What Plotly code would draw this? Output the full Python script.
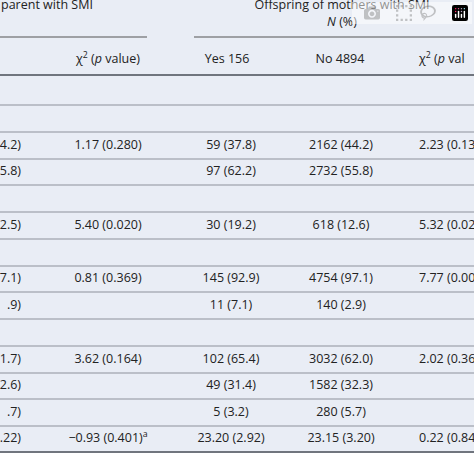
import plotly.graph_objects as go

# Table content (visible portion of the cropped reference)
row_y = [145.5, 172, 225.5, 279, 305.5, 359.5, 386, 412.5, 439]
col1 = ["4.2)", "5.8)", "2.5)", "7.1)", ".9)", "1.7)", "2.6)", ".7)", ".22)"]
col2 = ["1.17 (0.280)", "", "5.40 (0.020)", "0.81 (0.369)", "", "3.62 (0.164)", "", "", "\u22120.93 (0.401)<sup>a</sup>"]
col3 = ["59 (37.8)", "97 (62.2)", "30 (19.2)", "145 (92.9)", "11 (7.1)", "102 (65.4)", "49 (31.4)", "5 (3.2)", "23.20 (2.92)"]
col4 = ["2162 (44.2)", "2732 (55.8)", "618 (12.6)", "4754 (97.1)", "140 (2.9)", "3032 (62.0)", "1582 (32.3)", "280 (5.7)", "23.15 (3.20)"]
col5 = ["2.23 (0.13", "", "5.32 (0.02", "7.77 (0.00", "", "2.02 (0.36", "", "", "0.22 (0.84"]
header_cells = ["62", "\u03c7<sup>2</sup> (<i>p</i> value)", "Yes 156", "No 4894", "\u03c7<sup>2</sup> (<i>p</i> val"]
group_titles = ["parent with SMI", "Offspring of mothers with SMI"]
group_sub = ["%)", "<i>N</i> (%)"]
rule_y = [105, 132, 159, 185, 212, 239, 266, 292, 319, 346, 373, 399, 426]

font = dict(family="Open Sans", size=12.5, color="#222")
fig = go.Figure()

def text_trace(xs, texts, ys, pos):
    fig.add_trace(go.Scatter(x=xs, y=ys, text=texts, mode="text",
                             textposition=pos, textfont=font, hoverinfo="skip",
                             cliponaxis=False, showlegend=False))

n = len(row_y)
text_trace([21] * n, col1, row_y, "middle left")
text_trace([108] * n, col2, row_y, "middle center")
text_trace([231] * n, col3, row_y, "middle center")
text_trace([341] * n, col4, row_y, "middle center")
text_trace([419] * n, col5, row_y, "middle right")

# header row
text_trace([-1, 108, 227, 340, 419], header_cells, [60] * 5,
           ["middle right", "middle center", "middle center", "middle center", "middle right"])

# group headers
text_trace([1, 342], group_titles, [6, 6], ["middle right", "middle center"])
text_trace([-3, 342], group_sub, [23, 23], ["middle right", "middle center"])

shapes = [dict(type="rect", x0=0, x1=474, y0=-5, y1=452, fillcolor="#e9edf5", line_width=0, layer="below")]
for y in rule_y:
    shapes.append(dict(type="line", x0=0, x1=474, y0=y, y1=y, line=dict(color="#8d929b", width=1.2)))
for y in [75, 452]:
    shapes.append(dict(type="line", x0=0, x1=474, y0=y, y1=y, line=dict(color="#70757e", width=2.2)))
shapes.append(dict(type="line", x0=0, x1=147, y0=37, y1=37, line=dict(color="#555", width=1.2)))
shapes.append(dict(type="line", x0=194, x1=474, y0=37, y1=37, line=dict(color="#555", width=1.2)))

fig.update_layout(width=474, height=474, margin=dict(l=0, r=0, t=0, b=0),
                  paper_bgcolor="white", plot_bgcolor="white", shapes=shapes,
                  xaxis=dict(range=[0, 474], visible=False, fixedrange=True),
                  yaxis=dict(range=[474, 0], visible=False, fixedrange=True))
fig.write_html("out.html")

with open("out.html", encoding="utf-8") as f:
    html = f.read()
html = html.replace("<body>", '<body style="margin:0;overflow:hidden">', 1)
with open("out.html", "w", encoding="utf-8") as f:
    f.write(html)
